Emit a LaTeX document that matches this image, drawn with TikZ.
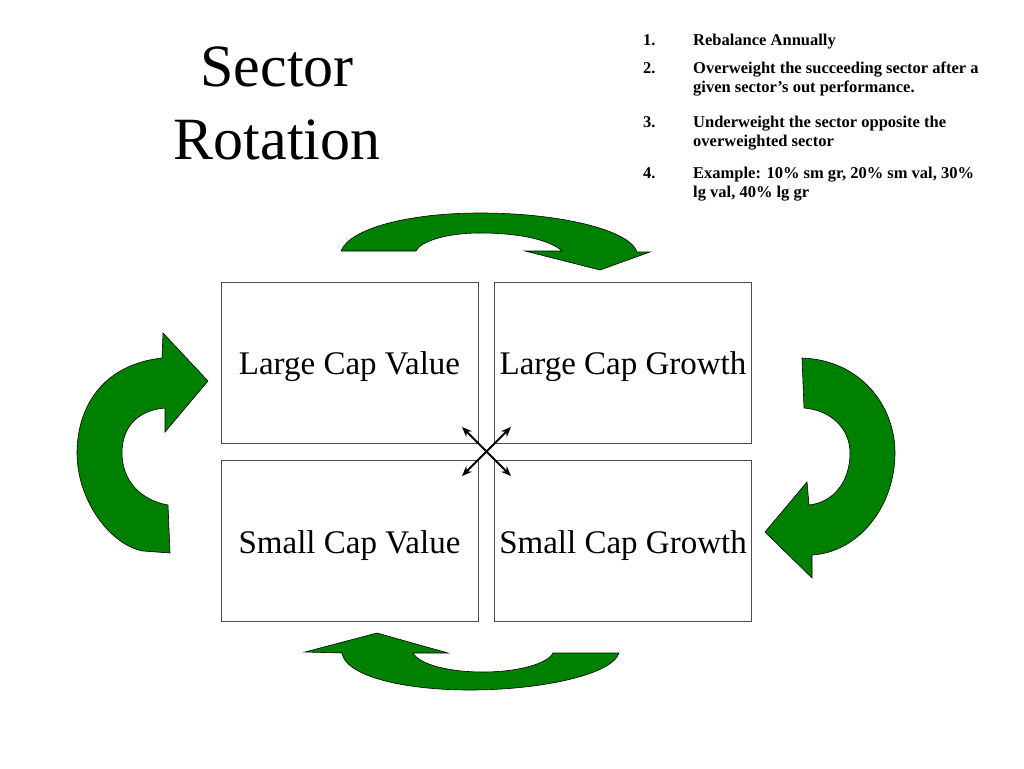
\documentclass[tikz,border=0pt]{standalone}
\usepackage{fontspec}
\usetikzlibrary{arrows.meta}
\setmainfont{Liberation Serif}
\begin{document}
\begin{tikzpicture}[x=1pt,y=-1pt,
  box/.style={draw=black!70,line width=0.8pt,minimum width=257pt,minimum height=161pt,inner sep=0pt,font=\fontsize{33}{36}\selectfont},
  btext/.style={font=\fontsize{33}{36}\selectfont,inner sep=0pt},
  garrow/.style={fill=green!50!black,draw=black,line width=0.6pt,line join=miter},
  item/.style={anchor=north west,font=\fontsize{16.5}{19}\selectfont\bfseries,inner sep=0pt,align=left},
  dx/.style={{Stealth[length=10pt,width=8pt]}-{Stealth[length=10pt,width=8pt]},line width=1.8pt}]
\useasboundingbox (0,0) rectangle (1024,768);
\node[font=\fontsize{60}{73}\selectfont,align=center] (title) at (277,103) {Sector\\Rotation};
\node[item] (n1) at (643,34) {1.};\node[item] (t1) at (693,34) {Rebalance Annually};
\node[item] (n2) at (643,62) {2.};\node[item] (t2) at (693,62) {Overweight the succeeding sector after a\\given sector’s out performance.};
\node[item] (n3) at (643,116) {3.};\node[item] (t3) at (693,116) {Underweight the sector opposite the\\overweighted sector};
\node[item] (n4) at (643,167) {4.};\node[item] (t4) at (693,167) {Example: 10\% sm gr, 20\% sm val, 30\%\\lg val, 40\% lg gr};
\node[box] (lcv) at (349.5,362.5) {};
\node[box] (lcg) at (623,362.5) {};
\node[box] (scv) at (349.5,541) {};
\node[box] (scg) at (623,541) {};
\node[btext] (lcvt) at (349.5,367) {Large Cap Value};
\node[btext] (lcgt) at (623,367) {Large Cap Growth};
\node[btext] (scvt) at (349.5,546) {Small Cap Value};
\node[btext] (scgt) at (623,546) {Small Cap Growth};
\coordinate (a1) at (462,427);\coordinate (a2) at (511,476);
\coordinate (b1) at (511,427);\coordinate (b2) at (462,476);
\draw[dx] (a1) -- (a2);
\draw[dx] (b1) -- (b2);
% top arrow
\draw[garrow] (341,251) .. controls (350,228) and (410,213) .. (480,213) .. controls (560,213) and (630,230) .. (637,252) -- (650,252) -- (600,270) -- (525,251) -- (562,251) .. controls (550,240) and (520,233) .. (480,233) .. controls (445,233) and (420,242) .. (416,251) -- cycle;
% right arrow
\draw[garrow] (802,358) .. controls (860,360) and (895,405) .. (895,453) .. controls (895,505) and (860,552) .. (812,555) -- (812,578) -- (765,532) -- (807,482) -- (809,505) .. controls (835,502) and (850,480) .. (850,453) .. controls (850,428) and (830,410) .. (804,408) -- cycle;
% bottom arrow
\draw[garrow] (305,652) -- (377,633) -- (448,653) -- (413,653) .. controls (420,665) and (450,672) .. (483,672) .. controls (520,672) and (548,663) .. (553,653) -- (619,653) .. controls (612,675) and (540,690) .. (470,690) .. controls (400,690) and (345,675) .. (342,653) -- cycle;
% left arrow
\draw[garrow] (162,358) .. controls (100,365) and (77,410) .. (77,453) .. controls (77,500) and (110,545) .. (143,551) -- (170,553) -- (168,505) .. controls (140,500) and (122,480) .. (122,453) .. controls (122,425) and (140,410) .. (165,408) -- (165,432) -- (208,381) -- (163,333) -- cycle;
\end{tikzpicture}
\end{document}
